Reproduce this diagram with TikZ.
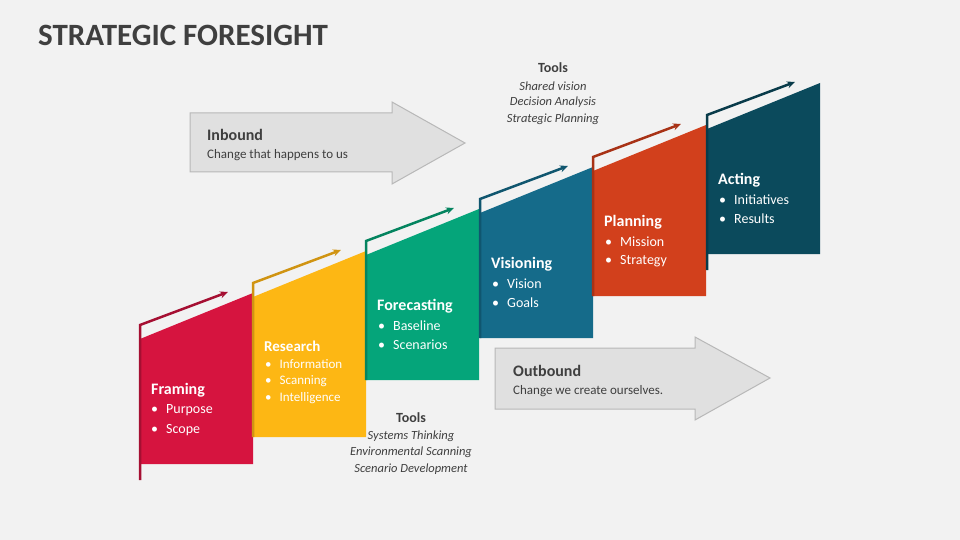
\documentclass[tikz,border=0pt]{standalone}
\usepackage{fontspec}
\setmainfont{Carlito}
\usetikzlibrary{arrows.meta}
\definecolor{bgc}{HTML}{F2F2F2}
\definecolor{titlec}{HTML}{3F3F3F}
\definecolor{cFram}{HTML}{D6143F}\definecolor{lFram}{HTML}{A50F32}
\definecolor{cRes}{HTML}{FDB714}\definecolor{lRes}{HTML}{D09412}
\definecolor{cFore}{HTML}{05A57A}\definecolor{lFore}{HTML}{04845F}
\definecolor{cVis}{HTML}{156B8A}\definecolor{lVis}{HTML}{10566F}
\definecolor{cPlan}{HTML}{D2401C}\definecolor{lPlan}{HTML}{A83216}
\definecolor{cAct}{HTML}{0B4A5C}\definecolor{lAct}{HTML}{093B4A}
\tikzset{
  blocktitle/.style={anchor=west, text=white, font=\bfseries\fontsize{16}{18}\selectfont, inner sep=0},
  blockitem/.style={anchor=west, text=white, font=\fontsize{14}{16}\selectfont, inner sep=0},
  bigarrow/.style={fill=black!12, draw=black!28, line width=1pt},
  arrowtitle/.style={anchor=west, text=titlec, font=\bfseries\fontsize{16}{18}\selectfont, inner sep=0},
  arrowtext/.style={anchor=west, text=titlec, font=\fontsize{13}{15}\selectfont, inner sep=0},
  toolstitle/.style={text=titlec, font=\bfseries\fontsize{14}{16}\selectfont, inner sep=0},
  toolsitem/.style={text=titlec, font=\itshape\fontsize{12.5}{14}\selectfont, inner sep=0},
}
\begin{document}
\begin{tikzpicture}[x=1pt,y=-1pt]
\fill[bgc] (0,0) rectangle (960,540);
\useasboundingbox (0,0) rectangle (960,540);

% title
\node[anchor=west, text=titlec, font=\bfseries\fontsize{31}{34}\selectfont, inner sep=0] (title) at (38,35) {STRATEGIC FORESIGHT};

% the grey arrows
\draw[bigarrow] (190,113) -- (392,113) -- (392,102) -- (465,143) -- (392,184) -- (392,172) -- (190,172) -- cycle;
\node[arrowtitle] (inb) at (207,135) {Inbound};
\node[arrowtext] (inbtxt) at (207,155) {Change that happens to us};
\draw[bigarrow] (495,348) -- (695,348) -- (695,337) -- (770,378) -- (695,420) -- (695,409) -- (495,409) -- cycle;
\node[arrowtitle] (outb) at (513,371) {Outbound};
\node[arrowtext] (outbtxt) at (513,391) {Change we create ourselves.};

% the steps: left x, top y at left, bottom y, line bottom y, fill, line colour
\foreach \x/\t/\b/\lb/\c/\l/\n in {140/339/464/480/cFram/lFram/fr, 253/297/437/437/cRes/lRes/re,
    366/255/380/380/cFore/lFore/fo, 480/213/338/338/cVis/lVis/vi,
    593/171/296/296/cPlan/lPlan/pl, 707/129/254/270/cAct/lAct/ac} {
  \fill[\c] (\x,\t) -- (\x+113,\t-46) -- (\x+113,\b) -- (\x,\b) -- cycle;
  \coordinate (\n-bot) at (\x,\lb);
  \coordinate (\n-top) at (\x,\t-14);
  \coordinate (\n-tip) at (\x+88,\t-47);
  \draw[\l, line width=2.5pt, -{Stealth[length=8pt,width=7pt]}] (\n-bot) -- (\n-top) -- (\n-tip);
}

% step texts
\node[blocktitle] (fram) at (151,390) {Framing};
\node[blockitem] (fram1) at (151,410) {\textbullet\hspace{8pt}Purpose};
\node[blockitem] (fram2) at (151,430) {\textbullet\hspace{8pt}Scope};
\node[blocktitle, font=\bfseries\fontsize{15}{17}\selectfont] (res) at (264,346) {Research};
\node[blockitem, font=\fontsize{13}{15}\selectfont] (res1) at (265,364) {\textbullet\hspace{8pt}Information};
\node[blockitem, font=\fontsize{13}{15}\selectfont] (res2) at (265,381) {\textbullet\hspace{8pt}Scanning};
\node[blockitem, font=\fontsize{13}{15}\selectfont] (res3) at (265,398) {\textbullet\hspace{8pt}Intelligence};
\node[blocktitle] (fore) at (377,306) {Forecasting};
\node[blockitem] (fore1) at (378,326) {\textbullet\hspace{8pt}Baseline};
\node[blockitem] (fore2) at (378,345) {\textbullet\hspace{8pt}Scenarios};
\node[blocktitle] (vis) at (491,264) {Visioning};
\node[blockitem] (vis1) at (492,284) {\textbullet\hspace{8pt}Vision};
\node[blockitem] (vis2) at (492,303) {\textbullet\hspace{8pt}Goals};
\node[blocktitle] (plan) at (604,222) {Planning};
\node[blockitem] (plan1) at (605,242) {\textbullet\hspace{8pt}Mission};
\node[blockitem] (plan2) at (605,261) {\textbullet\hspace{8pt}Strategy};
\node[blocktitle] (act) at (718,180) {Acting};
\node[blockitem] (act1) at (719,200) {\textbullet\hspace{8pt}Initiatives};
\node[blockitem] (act2) at (719,219) {\textbullet\hspace{8pt}Results};

% tools
\node[toolstitle] (toolsa) at (553,68) {Tools};
\node[toolsitem] (toolsa1) at (553,86) {Shared vision};
\node[toolsitem] (toolsa2) at (553,102) {Decision Analysis};
\node[toolsitem] (toolsa3) at (553,119) {Strategic Planning};
\node[toolstitle] (toolsb) at (411,418) {Tools};
\node[toolsitem] (toolsb1) at (411,436) {Systems Thinking};
\node[toolsitem] (toolsb2) at (411,452) {Environmental Scanning};
\node[toolsitem] (toolsb3) at (411,469) {Scenario Development};
\end{tikzpicture}
\end{document}
